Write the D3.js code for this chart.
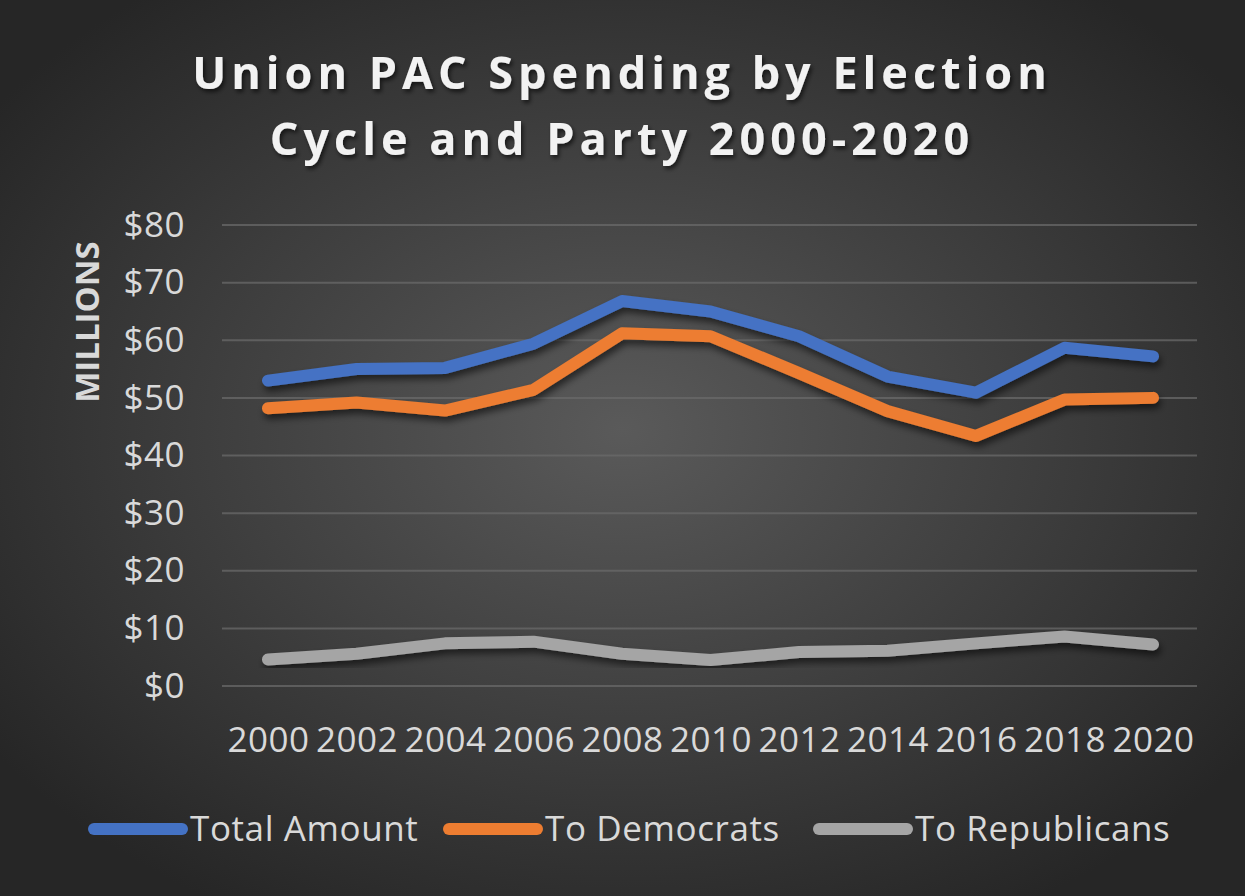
<!DOCTYPE html>
<html>
<head>
<meta charset="utf-8">
<script src="https://cdn.jsdelivr.net/npm/d3@7"></script>
<style>
  body { margin: 0; background: #262626; }
  svg { display: block; }
</style>
</head>
<body>
<div id="vis"></div>
<script>
// data (millions of dollars)
const years = ['2000', '2002', '2004', '2006', '2008', '2010', '2012', '2014', '2016', '2018', '2020'];
const totalAmount = [53.0, 55.0, 55.2, 59.4, 66.8, 65.0, 60.7, 53.7, 50.9, 58.7, 57.2];
const toDemocrats = [48.2, 49.2, 47.8, 51.4, 61.2, 60.7, 54.3, 47.7, 43.4, 49.7, 50.0];
const toRepublicans = [4.6, 5.6, 7.4, 7.7, 5.6, 4.5, 5.9, 6.1, 7.4, 8.6, 7.2];
const yTicks = [0, 10, 20, 30, 40, 50, 60, 70, 80];
const seriesNames = ['Total Amount', 'To Democrats', 'To Republicans'];
const seriesColors = ['#4472C4', '#ED7D31', '#A5A5A5'];

const W = 1245;
const H = 896;
const plot = {left: 222, right: 1197, top: 225, bottom: 686};

const svg = d3.select('#vis')
  .append('svg')
  .attr('width', W)
  .attr('height', H);

const defs = svg.append('defs');
const bg = defs.append('radialGradient')
  .attr('id', 'bg')
  .attr('cx', '50%').attr('cy', '48%').attr('r', '62%');
bg.append('stop').attr('offset', '0%').attr('stop-color', '#5a5a5a');
bg.append('stop').attr('offset', '100%').attr('stop-color', '#262626');

const shadow = defs.append('filter')
  .attr('id', 'shadow')
  .attr('x', '-10%').attr('y', '-30%')
  .attr('width', '120%').attr('height', '160%');
shadow.append('feDropShadow')
  .attr('dx', 2).attr('dy', 5)
  .attr('stdDeviation', 3.5)
  .attr('flood-color', '#000')
  .attr('flood-opacity', 0.55);

const textShadow = defs.append('filter').attr('id', 'tshadow');
textShadow.append('feDropShadow')
  .attr('dx', 2).attr('dy', 3)
  .attr('stdDeviation', 2)
  .attr('flood-color', '#000')
  .attr('flood-opacity', 0.6);

svg.append('rect')
  .attr('width', W)
  .attr('height', H)
  .attr('fill', 'url(#bg)');

// title
const title = svg.append('text')
  .attr('text-anchor', 'middle')
  .attr('fill', '#f2f2f2')
  .attr('font-family', 'Open Sans, sans-serif')
  .attr('font-weight', 700)
  .attr('font-size', 45)
  .attr('letter-spacing', 5)
  .attr('filter', 'url(#tshadow)');
title.append('tspan').attr('x', 622).attr('y', 89).text('Union PAC Spending by Election');
title.append('tspan').attr('x', 622).attr('y', 155).text('Cycle and Party 2000-2020');

// scales
const x = d3.scalePoint()
  .domain(years)
  .range([268, 1153]);
const y = d3.scaleLinear()
  .domain([0, 80])
  .range([plot.bottom, plot.top]);

// gridlines
svg.append('g')
  .selectAll('line')
  .data(yTicks)
  .enter()
  .append('line')
  .attr('x1', plot.left)
  .attr('x2', plot.right)
  .attr('y1', (d) => y(d))
  .attr('y2', (d) => y(d))
  .attr('stroke', '#6a6a6a')
  .attr('stroke-opacity', 0.75)
  .attr('stroke-width', 2);

// y axis
const yAxis = svg.append('g')
  .attr('transform', 'translate(185,0)')
  .call(d3.axisLeft(y).tickValues(yTicks).tickSize(0).tickPadding(0)
    .tickFormat((d) => '$' + d));
yAxis.select('.domain').remove();
yAxis.selectAll('text')
  .attr('fill', '#d9d9d9')
  .attr('font-family', 'Open Sans, sans-serif')
  .attr('font-size', 35)
  .attr('letter-spacing', 0.5);

// x axis
const xAxis = svg.append('g')
  .attr('transform', 'translate(0,' + 727 + ')')
  .call(d3.axisBottom(x).tickSize(0).tickPadding(0));
xAxis.select('.domain').remove();
xAxis.selectAll('text')
  .attr('fill', '#d9d9d9')
  .attr('font-family', 'Open Sans, sans-serif')
  .attr('font-size', 35)
  .attr('letter-spacing', 0.5);

// y axis title
svg.append('text')
  .attr('transform', 'translate(99,322) rotate(-90)')
  .attr('text-anchor', 'middle')
  .attr('fill', '#d9d9d9')
  .attr('font-family', 'Open Sans, sans-serif')
  .attr('font-weight', 700)
  .attr('font-size', 33)
  .text('MILLIONS');

// lines
const series = [totalAmount, toDemocrats, toRepublicans];
const line = d3.line()
  .x((d, i) => x(years[i]))
  .y((d) => y(d));

svg.append('g')
  .selectAll('path')
  .data(series)
  .enter()
  .append('path')
  .attr('d', (d) => line(d))
  .attr('fill', 'none')
  .attr('stroke', (d, i) => seriesColors[i])
  .attr('stroke-width', 12)
  .attr('stroke-linecap', 'round')
  .attr('stroke-linejoin', 'round')
  .attr('filter', 'url(#shadow)');

// legend
const legendX = [94, 449, 819];
const legend = svg.append('g')
  .selectAll('g')
  .data(seriesNames)
  .enter()
  .append('g')
  .attr('transform', (d, i) => 'translate(' + legendX[i] + ',829)');
legend.append('line')
  .attr('x1', 0)
  .attr('x2', 88)
  .attr('stroke', (d, i) => seriesColors[i])
  .attr('stroke-width', 12)
  .attr('stroke-linecap', 'round');
legend.append('text')
  .attr('x', 96)
  .attr('y', 12)
  .attr('fill', '#d9d9d9')
  .attr('font-family', 'Open Sans, sans-serif')
  .attr('font-size', 35)
  .attr('letter-spacing', 0.6)
  .text((d) => d);
</script>
</body>
</html>
